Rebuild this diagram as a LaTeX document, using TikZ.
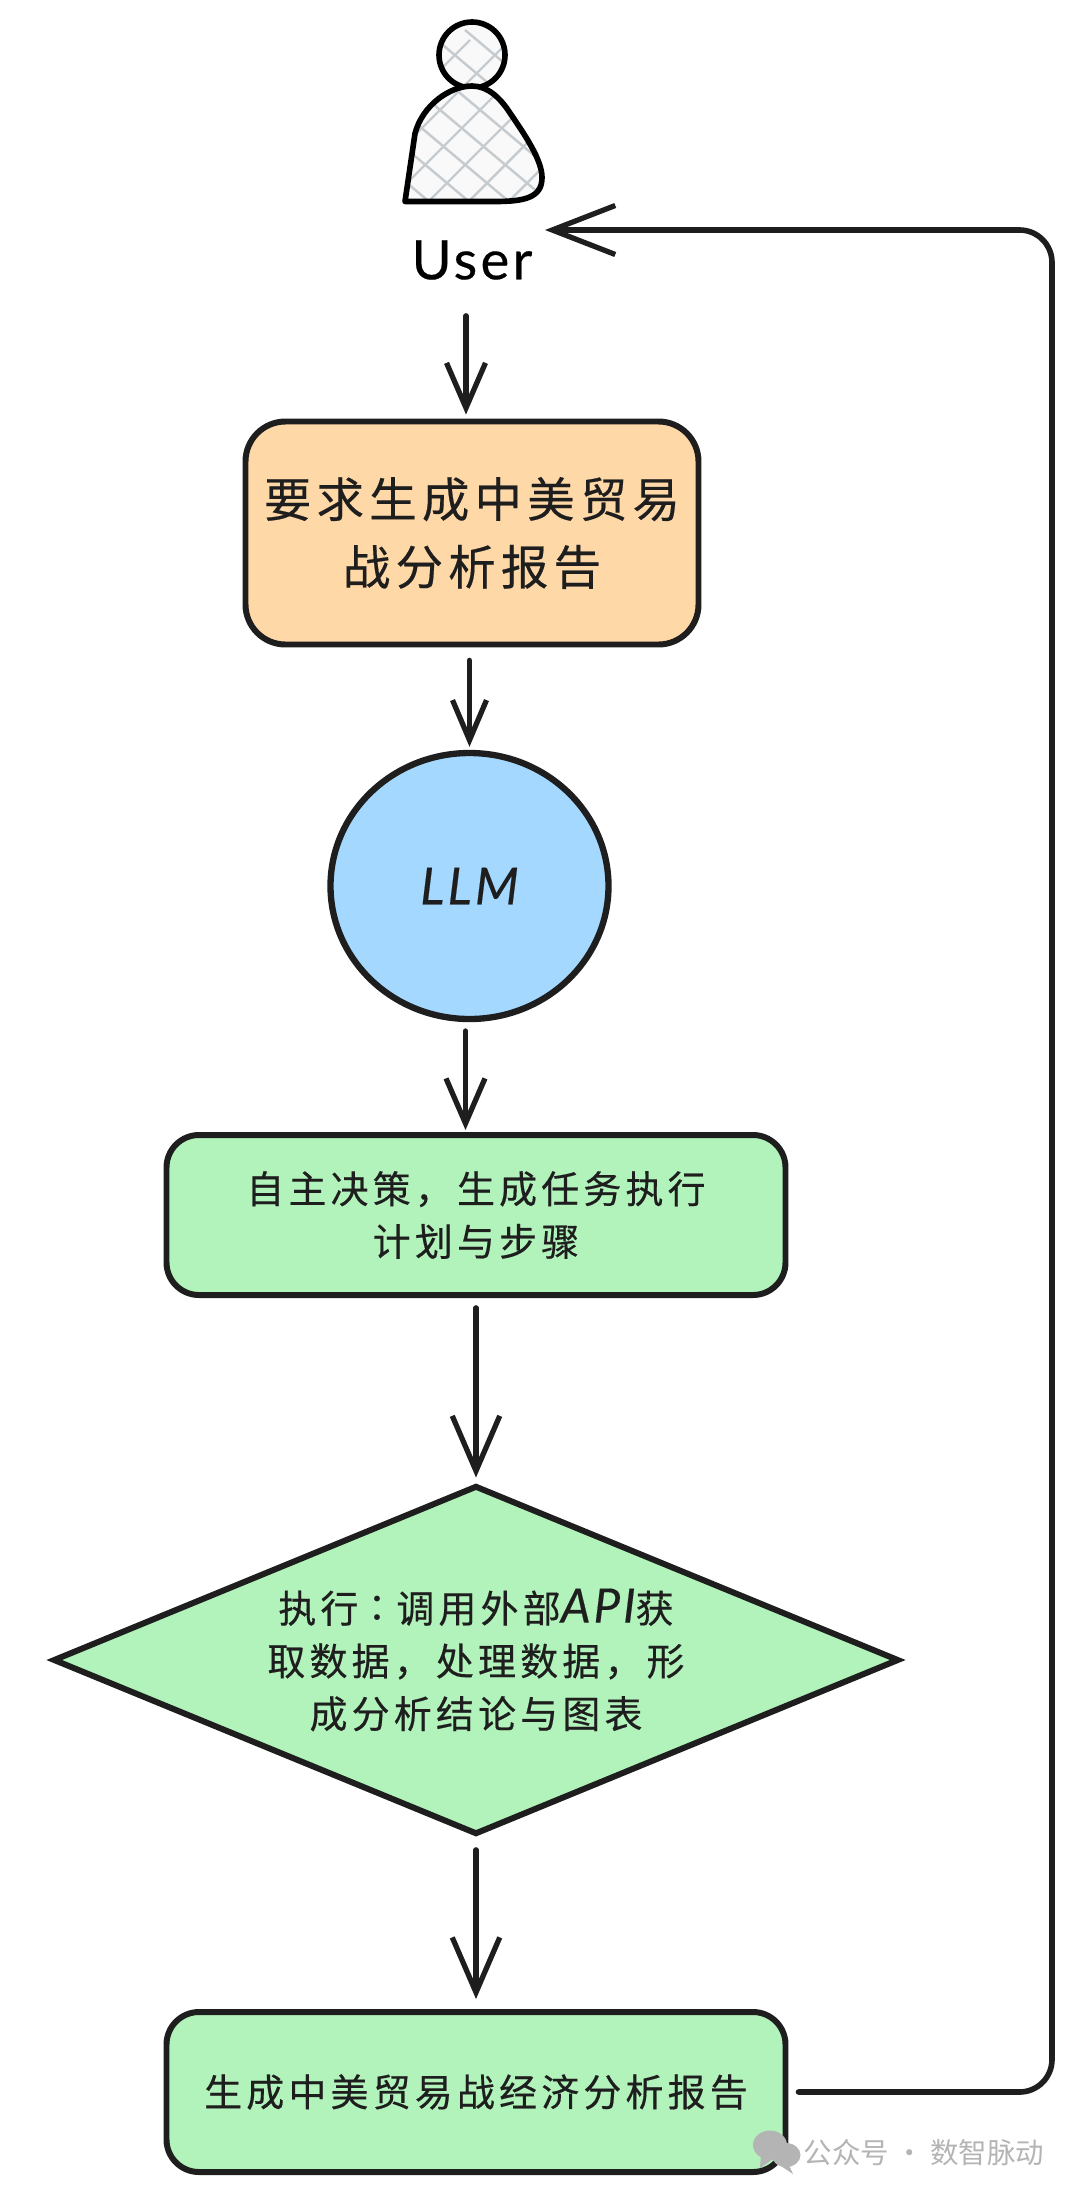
\documentclass[tikz,border=0pt]{standalone}
\usepackage{fontspec}
\setmainfont{Noto Sans CJK SC}
\newfontfamily\latinhand[LetterSpace=6,FakeBold=0.3]{Lato}
\newfontfamily\colonfont{Noto Sans CJK TC}
\usetikzlibrary{arrows.meta,shapes.geometric}
\definecolor{inkblack}{HTML}{1E1E1E}
\definecolor{boxorange}{HTML}{FFD8A8}
\definecolor{boxblue}{HTML}{A5D8FF}
\definecolor{boxgreen}{HTML}{B2F2BB}
\definecolor{hatchgray}{HTML}{C6CBD0}
\definecolor{markgray}{HTML}{B4B4B4}
\newcommand{\hatchlines}{%
	\foreach \i in {0,...,12} {
		\draw[hatchgray,line width=1.4pt] (6.2+0.8*\i,-0.8) -- ++(-4,-4);
		\draw[hatchgray,line width=1.4pt] (4.5+0.8*\i,-0.6) -- ++(4.4,-3.7);
	}}
\begin{document}
\begin{tikzpicture}[node distance=2.5cm]
	\tikzstyle{rect1} = [rectangle,rounded corners=0.8cm,line width=3.4pt,draw=inkblack,fill=boxorange,
	minimum width=9.06cm,minimum height=4.46cm,inner sep=0pt,align=center,text=inkblack,
	font=\fontsize{27}{38.5}\addfontfeatures{LetterSpace=11,FakeBold=0.4}\selectfont]
	\tikzstyle{rect2} = [rectangle,rounded corners=0.65cm,line width=3.4pt,draw=inkblack,fill=boxgreen,
	minimum width=12.38cm,minimum height=3.2cm,inner sep=0pt,align=center,text=inkblack,
	font=\fontsize{21.6}{30}\addfontfeatures{LetterSpace=11,FakeBold=0.4}\selectfont]
	\tikzstyle{diam1} = [diamond,line width=3.4pt,draw=inkblack,fill=boxgreen,aspect=2.44,
	minimum width=16.92cm,minimum height=6.98cm,inner sep=0pt,align=center,text=inkblack,
	font=\fontsize{21.6}{30}\addfontfeatures{LetterSpace=11,FakeBold=0.4}\selectfont]
	\tikzstyle{circ1} = [ellipse,line width=3.6pt,draw=inkblack,fill=boxblue,
	minimum width=5.56cm,minimum height=5.32cm,inner sep=0pt,text=inkblack]
	\tikzstyle{line1} = [line width=3.2pt,draw=inkblack,line cap=round,
	-{Straight Barb[length=0.9cm,width=0.78cm,line width=3pt]}]

	\useasboundingbox (0,0) rectangle (21.6,-43.9);

	\begin{scope}
		\clip (9.44,-1.1) circle (0.66cm);
		\fill[gray!5] (8.5,-0.2) rectangle (10.4,-2);
		\hatchlines
	\end{scope}
	\node (head) [circle,line width=3.2pt,draw=black,minimum size=1.32cm,inner sep=0pt] at (9.44,-1.1) {};
	\begin{scope}
		\clip (8.1,-4.03) -- (8.3,-2.67) .. controls (8.45,-2.1) and (9,-1.72) .. (9.44,-1.72)
		.. controls (9.75,-1.72) and (10,-1.95) .. (10.2,-2.26) .. controls (10.5,-2.7) and (10.84,-3.2) .. (10.84,-3.55)
		.. controls (10.84,-3.95) and (10.5,-4.03) .. (9.9,-4.03) -- cycle;
		\fill[gray!5] (8,-1.6) rectangle (11,-4.1);
		\hatchlines
	\end{scope}
	\draw[line width=3.2pt,line join=round] (8.1,-4.03) -- (8.3,-2.67) .. controls (8.45,-2.1) and (9,-1.72) .. (9.44,-1.72)
	.. controls (9.75,-1.72) and (10,-1.95) .. (10.2,-2.26) .. controls (10.5,-2.7) and (10.84,-3.2) .. (10.84,-3.55)
	.. controls (10.84,-3.95) and (10.5,-4.03) .. (9.9,-4.03) -- cycle;

	\node (user) [below of=head,node distance=4.1cm,font=\fontsize{31}{34}\latinhand\selectfont] {User};
	\node (box1) [rect1, below of=user,node distance=5.46cm] {要求生成中美贸易\\战分析报告};
	\node (llm) [circ1, below of=box1,node distance=7.06cm,xshift=-0.05cm,font=\fontsize{29}{32}\latinhand\itshape\selectfont] {LLM};
	\node (box2) [rect2, below of=llm,node distance=6.58cm,xshift=0.13cm] {自主决策，生成任务执行\\计划与步骤};
	\node (exec) [diam1, below of=box2,node distance=8.9cm] {执行{\colonfont ：}调用外部{\fontsize{27}{30}\latinhand\itshape\selectfont API}获\\取数据，处理数据，形\\成分析结论与图表};
	\node (box3) [rect2, below of=exec,node distance=8.64cm] {生成中美贸易战经济分析报告};

	\coordinate (userin) at (10.9,-4.6);
	\coordinate (turn) at (21.04,-4.6);

	\draw[line1,shorten <=0.6cm,shorten >=0.08cm] ([xshift=-0.12cm]user.south) -- ([xshift=-0.12cm]user.south |- box1.north);
	\draw[line1,shorten <=0.26cm,shorten >=0.06cm,-{Straight Barb[length=0.8cm,width=0.68cm,line width=3pt]}] (box1.south -| llm.north) -- (llm.north);
	\draw[line1,shorten <=0.18cm,shorten >=0.04cm] ([xshift=-0.08cm]llm.south) -- ([xshift=-0.08cm]llm.south |- box2.north);
	\draw[line1,shorten <=0.2cm,shorten >=0.1cm,-{Straight Barb[length=1.1cm,width=0.95cm,line width=3pt]}] (box2.south) -- (exec.north);
	\draw[line1,shorten <=0.25cm,shorten >=0.2cm,-{Straight Barb[length=1.1cm,width=0.95cm,line width=3pt]}] (exec.south) -- (box3.north);
	\draw[line1,rounded corners=0.65cm,shorten <=0.2cm,
	-{Straight Barb[length=1.26cm,width=0.98cm,line width=3pt]}] (box3.east) -| (turn) -- (userin);

	% watermark
	\fill[markgray] (15.4,-42.9) ellipse (0.34cm and 0.29cm);
	\fill[markgray] (15.22,-43.1) -- (15.2,-43.36) -- (15.5,-43.15) -- cycle;
	\fill[markgray] (15.72,-43.1) ellipse (0.29cm and 0.24cm);
	\fill[markgray] (15.78,-43.3) -- (15.86,-43.48) -- (15.62,-43.32) -- cycle;
	\node (mark) [text=markgray,anchor=west,inner sep=0pt,font=\fontsize{16.2}{18}\selectfont] at (16.07,-43.06) {公众号 · 数智脉动};
\end{tikzpicture}
\end{document}
